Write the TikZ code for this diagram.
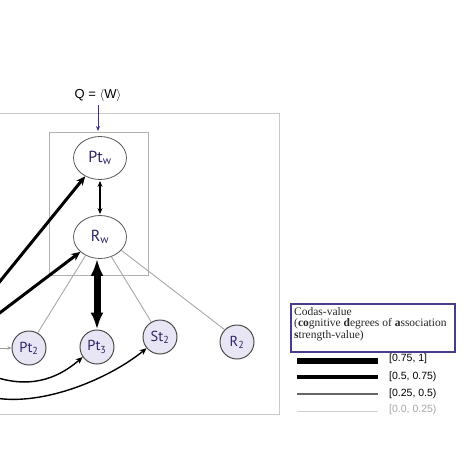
\documentclass[tikz,border=0pt]{standalone}
\usepackage{fontspec}
\setmainfont{Liberation Serif}
\setsansfont{Liberation Sans}
\newfontfamily\nodefont{PT Sans}
\usetikzlibrary{arrows.meta,shapes.geometric}
\definecolor{navy}{HTML}{2D2466}
\definecolor{qpurple}{HTML}{3B2F8C}
\definecolor{boxpurple}{HTML}{4A3B8C}
\definecolor{lav}{HTML}{E8E6F4}
\definecolor{framegray}{HTML}{C8C8C8}
\definecolor{linkgray}{HTML}{A8A8A8}
\tikzset{
  bignode/.style={ellipse, draw=black!65, line width=0.8pt, fill=white,
    minimum width=53pt, minimum height=43pt, inner sep=0pt, text=navy,
    font=\nodefont\fontsize{16}{18}\selectfont},
  smallnode/.style={circle, draw=black!70, line width=1pt, fill=lav,
    minimum size=34pt, inner sep=0pt, text=navy,
    font=\nodefont\fontsize{14.5}{16}\selectfont},
  frame/.style={draw=framegray, line width=1pt},
  thickarrow/.style={draw=black, line width=3pt, -{Stealth[length=9pt,width=8pt]}},
  curvearrow/.style={draw=black, line width=1.4pt, -{Stealth[length=7pt,width=6pt]}},
  graylink/.style={draw=linkgray, line width=0.9pt},
  legtext/.style={font=\sffamily\fontsize{10.5}{12}\selectfont, anchor=west, inner sep=0pt},
}
\begin{document}
\begin{tikzpicture}[x=1pt,y=-1pt]
\useasboundingbox (0,0) rectangle (474,474);
% frames
\draw[frame] (-5,113) rectangle (279,414);
\draw[frame, draw=black!30] (49,132) rectangle (148,275);
% nodes
\node[bignode] (Ptw) at (100,158) {Pt\textsubscript{w}};
\node[bignode] (Rw) at (100,237) {R\textsubscript{w}};
\node[smallnode] (Pt2) at (29,348) {Pt\textsubscript{2}};
\node[smallnode] (Pt3) at (97,347) {Pt\textsubscript{3}};
\node[smallnode] (St2) at (160,337) {St\textsubscript{2}};
\node[smallnode] (R2) at (237,342) {R\textsubscript{2}};
% query
\node[font=\sffamily\fontsize{13}{15}\selectfont, inner sep=1pt] (Q) at (98,95) {Q = \ensuremath{\langle}W\ensuremath{\rangle}};
\coordinate (qe) at (98,131);
\draw[qpurple, line width=0.9pt, -{Stealth[length=5pt,width=4pt]}] (Q.south) ++(0,3) coordinate (qs) (qs) -- (qe);
% Ptw <-> Rw
\draw[black, line width=1.6pt, {Stealth[length=6pt,width=5pt]}-{Stealth[length=6pt,width=5pt]}, shorten <=1pt, shorten >=1pt] (Ptw.south) -- (Rw.north);
% Rw <-> Pt3 very thick
\draw[black, line width=7pt, {Latex[length=17pt,width=13pt]}-{Latex[length=17pt,width=13pt]}] (Rw.south -| Pt3.north) -- (Pt3.north);
% gray links
\draw[graylink] (Rw.232) -- (Pt2.60);
\draw[graylink] (Rw.300) -- (St2.120);
\draw[graylink] (Rw.328) -- (R2.135);
% incoming from left
\coordinate (a0) at (-3,285);
\coordinate (b0) at (-3,315);
\draw[thickarrow] (a0) -- (Ptw);
\draw[thickarrow] (b0) -- (Rw);
\coordinate (g0) at (-2,348);
\draw[draw=black!40, line width=0.8pt, -{Stealth[length=4pt,width=3.5pt]}] (g0) -- (Pt2.west);
\coordinate (c0) at (-5,377);
\coordinate (d0) at (-5,398);
\draw[curvearrow] (c0) .. controls (35,390) and (62,375) .. (Pt3.215);
\draw[curvearrow] (d0) .. controls (45,406) and (110,378) .. (St2.220);
% legend
\node[draw=boxpurple, line width=1.5pt, minimum width=164pt, minimum height=48pt, inner sep=0pt, anchor=north west] (legbox) at (290,303) {};
\node[font=\rmfamily\fontsize{11.5}{11.3}\selectfont, anchor=north west, align=left, inner sep=0pt, text=black!85] (legtitle) at (294,307.5)
 {Codas-value\\(\textbf{co}gnitive \textbf{d}egrees of \textbf{a}ssociation\\\textbf{s}trength-value)};
\coordinate (l1a) at (297,361); \coordinate (l1b) at (378,361);
\coordinate (l2a) at (297,377); \coordinate (l2b) at (378,377);
\coordinate (l3a) at (297,394); \coordinate (l3b) at (378,394);
\coordinate (l4a) at (297,411); \coordinate (l4b) at (378,411);
\draw[black, line width=6pt] (l1a) -- (l1b);
\draw[black, line width=4pt] (l2a) -- (l2b);
\draw[black!60, line width=2pt] (l3a) -- (l3b);
\draw[black!18, line width=1pt] (l4a) -- (l4b);
\node[legtext] (t1) at (389,359) {[0.75, 1]};
\node[legtext] (t2) at (389,377) {[0.5, 0.75)};
\node[legtext] (t3) at (389,394) {[0.25, 0.5)};
\node[legtext, text=black!35] (t4) at (389,410) {[0.0, 0.25)};
\end{tikzpicture}
\end{document}
